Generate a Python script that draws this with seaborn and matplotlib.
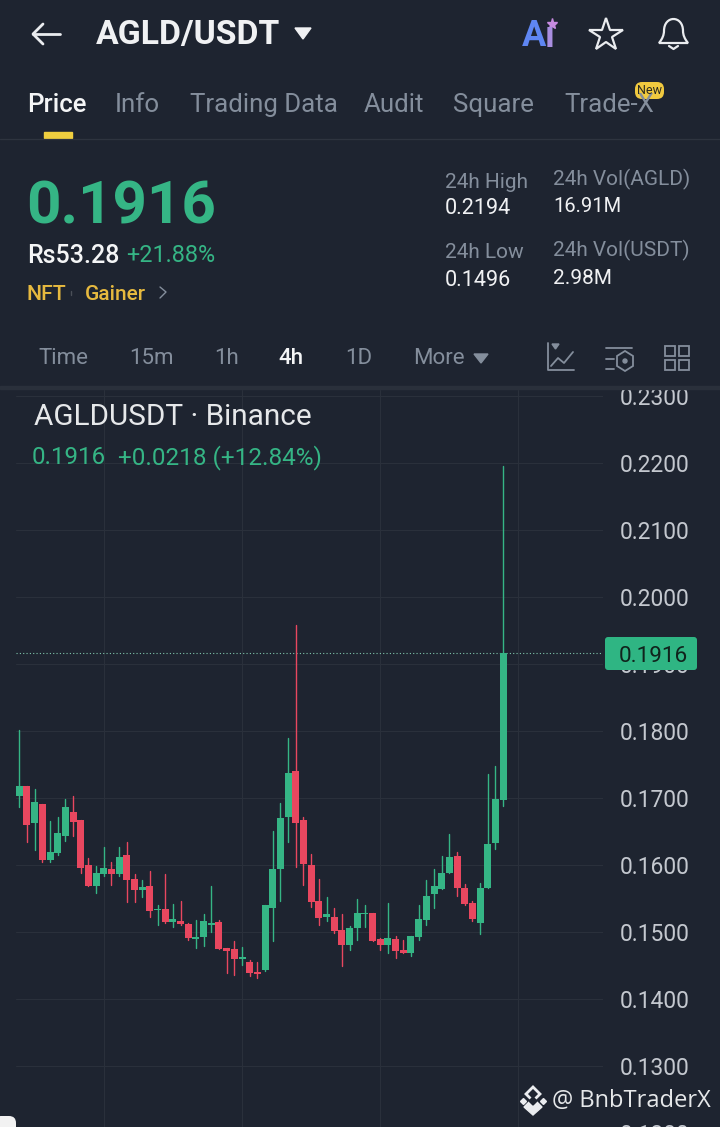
import matplotlib
matplotlib.use("Agg")
import matplotlib.pyplot as plt
from matplotlib.patches import FancyBboxPatch, Polygon, Rectangle, Circle
from matplotlib.path import Path
from matplotlib.patches import PathPatch
import numpy as np
import pandas as pd
import seaborn as sns

# candles, left to right
opens = [.1703,.1718,.1663,.1691,.1608,.1618,.1643,.1679,.1667,.1600,.1569,.1587,.1594,.1587,.1615,.1579,
         .1563,.1569,.1533,.1534,.1515,.1517,.1512,.1490,.1493,.1511,.1515,.1476,.1475,.1460,.1455,.1440,
         .1443,.1536,.1594,.1672,.1740,.1667,.1600,.1546,.1522,.1522,.1503,.1481,.1506,.1527,.1528,.1490,
         .1481,.1490,.1473,.1469,.1493,.1518,.1557,.1564,.1588,.1613,.1566,.1543,.1513,.1566,.1633,.1697]
closes = [.1718,.1660,.1694,.1608,.1619,.1648,.1687,.1664,.1596,.1569,.1588,.1596,.1587,.1612,.1578,.1563,
          .1567,.1531,.1534,.1515,.1519,.1512,.1491,.1491,.1517,.1513,.1475,.1472,.1460,.1461,.1439,.1437,
          .1540,.1594,.1670,.1737,.1663,.1602,.1545,.1521,.1527,.1501,.1481,.1506,.1528,.1528,.1487,.1481,
          .1491,.1472,.1469,.1494,.1519,.1554,.1569,.1588,.1612,.1566,.1542,.1519,.1566,.1631,.1699,.1916]
highs = [.1801,.1718,.1714,.1691,.1665,.1672,.1699,.1703,.1667,.1610,.1599,.1627,.1604,.1627,.1635,.1586,
         .1577,.1591,.1541,.1587,.1542,.1547,.1513,.1518,.1527,.1569,.1518,.1476,.1487,.1477,.1458,.1455,
         .1540,.1651,.1693,.1790,.1958,.1672,.1617,.1579,.1552,.1536,.1527,.1509,.1549,.1540,.1528,.1491,
         .1544,.1494,.1488,.1494,.1540,.1578,.1594,.1613,.1646,.1619,.1572,.1546,.1573,.1736,.1748,.2195]
lows = [.1687,.1634,.1622,.1605,.1605,.1615,.1636,.1643,.1588,.1568,.1558,.1583,.1570,.1583,.1545,.1545,
        .1552,.1522,.1511,.1514,.1507,.1510,.1488,.1476,.1479,.1500,.1474,.1439,.1436,.1451,.1435,.1432,
        .1442,.1486,.1547,.1635,.1597,.1570,.1537,.1510,.1517,.1498,.1449,.1473,.1488,.1507,.1486,.1473,
        .1469,.1461,.1468,.1464,.1488,.1510,.1536,.1564,.1588,.1554,.1541,.1516,.1497,.1565,.1624,.1688]
price_ticks = [.23,.22,.21,.20,.19,.18,.17,.16,.15,.14,.13,.12]
last_price = 0.1916

BG = "#1e2430"
GRID = "#2a303b"
GREEN = "#35b585"
RED = "#e8475f"
GREY = "#848e9c"
WHITE = "#eaecef"
GOLD = "#e6b93f"

W, H = 720, 1127
sns.set_theme(style="dark", rc={"axes.facecolor": BG, "figure.facecolor": BG})
plt.rcParams["font.family"] = ["Roboto", "DejaVu Sans"]

fig = plt.figure(figsize=(7.2, 11.27), dpi=100)

# chart axes run 10px past the bottom edge so the 0.1200 label gets cut like the screenshot
ax = fig.add_axes([16 / W, -10 / H, (603 - 16) / W, (H - 390 + 10) / H])
df = pd.DataFrame({"i": range(len(opens)), "open": opens, "close": closes, "high": highs, "low": lows})
df["dir"] = np.where(df["close"] >= df["open"], "up", "down")
df["base"] = df[["open", "close"]].min(axis=1)
df["size"] = (df["close"] - df["open"]).abs().clip(lower=0.0002)

wicks = df.melt(id_vars=["i", "dir"], value_vars=["high", "low"], value_name="price")
sns.lineplot(data=wicks, x="i", y="price", hue="dir", units="i", estimator=None, sort=False,
             palette={"up": GREEN, "down": RED}, linewidth=1.0, legend=False, ax=ax, zorder=3)
for d, col in [("up", GREEN), ("down", RED)]:
    part = df[df["dir"] == d]
    sns.barplot(data=part, x="i", y="size", bottom=part["base"].values, native_scale=True, width=0.91,
                color=col, saturation=1, errorbar=None, linewidth=0, ax=ax, zorder=4)

ax.set_xlabel("")
ax.set_ylabel("")
ax.set_xticks([(x - 19.3) / 7.68 for x in (104, 242, 380, 518)])
ax.set_xticklabels([])
ax.set_yticks(price_ticks)
ax.set_yticklabels([f"{p:.4f}" for p in price_ticks])
ax.set_xlim((16 - 19.3) / 7.68, (603 - 19.3) / 7.68)
ax.set_ylim(0.23 - 741 / 6700, 0.23 + 6 / 6700)
ax.yaxis.tick_right()
ax.tick_params(axis="y", length=0, pad=12, labelsize=16.4, labelcolor="#c4c8cf")
ax.tick_params(axis="x", length=0)
ax.grid(True, color=GRID, linewidth=0.8)
ax.set_axisbelow(True)
sns.despine(ax=ax, left=True, right=True, top=True, bottom=True)
ax.axhline(last_price, color="#7fc7ad", linewidth=0.8, linestyle=(0, (1, 2)), zorder=2)

# overlay in screenshot pixels for the app chrome
ov = fig.add_axes([0, 0, 1, 1], facecolor="none")
ov.set_xlim(0, W)
ov.set_ylim(H, 0)
ov.axis("off")


def txt(x, y, s, size, color=WHITE, weight="normal", ha="left", **kw):
    ov.text(x, y + 2, s, fontsize=size, color=color, fontweight=weight, ha=ha, va="center", **kw)


def line(xs, ys, color=WHITE, lw=1.6):
    ov.plot(xs, ys, color=color, lw=lw, solid_capstyle="round", solid_joinstyle="round")


# top bar
line([33, 60], [34, 34], lw=2)
line([43, 33, 43], [24, 34, 44], lw=2)
txt(96, 33, "AGLD/USDT", 24.3, weight="bold", color="#f0f1f3")
ov.add_patch(Polygon([[295, 28], [311, 28], [303, 39]], color="#f0f1f3"))
txt(522, 34, "A", 26, color="#5f86f2", weight="bold")
txt(545, 35, "ı", 26, color="#a98ee0", weight="bold")
ov.plot([552], [24], marker="*", ms=8, color="#c78be0")
ov.plot([606], [35], marker="*", ms=25, mfc="none", mec=WHITE, mew=1.6)
bell = Path([(659, 43), (664, 37), (664, 31), (664, 15), (683, 15), (683, 31), (683, 37), (688, 43), (659, 43)],
            [Path.MOVETO, Path.CURVE3, Path.CURVE3, Path.CURVE4, Path.CURVE4, Path.CURVE4, Path.CURVE3, Path.CURVE3, Path.CLOSEPOLY])
ov.add_patch(PathPatch(bell, fc="none", ec=WHITE, lw=1.6))
line([669, 673.5, 678], [46, 49, 46], lw=1.6)

# tabs
for x, s in [(115, "Info"), (189.5, "Trading Data"), (364, "Audit"), (453, "Square"), (564, "Trade-X")]:
    txt(x, 103, s, 18.6, color=GREY)
txt(27, 103, "Price", 18.5, color="#f4f5f6", weight="medium")
ov.add_patch(FancyBboxPatch((635, 82), 29, 17, boxstyle="round,pad=0,rounding_size=7", fc="#f0c93f", ec="none"))
txt(649.5, 89, "New", 9, color="#2a2a20", ha="center")
ov.add_patch(Rectangle((44, 132), 28, 6, color="#f0cf3f"))
line([0, W], [138.5, 138.5], color="#2e343f", lw=0.9)

# price block
txt(26, 205, "0.1916", 43.3, color=GREEN, weight="bold")
txt(27, 254, "Rs53.28", 18, color="#f4f5f6", weight="medium")
txt(126, 253, "+21.88%", 16.8, color=GREEN)
txt(27, 292, "NFT", 15.3, color=GOLD, weight="medium")
txt(85, 292, "Gainer", 15, color=GOLD, weight="medium")
line([71, 71], [291, 295], color="#4a4f58", lw=1)
line([160, 166, 160], [287, 292, 298], color=GREY, lw=1)
for x, y, s in [(445, 180, "24h High"), (553, 177, "24h Vol(AGLD)"), (445, 251, "24h Low"), (553, 248, "24h Vol(USDT)")]:
    txt(x, y, s, 15, color=GREY)
for x, y, s, size in [(445, 207, "0.2194", 15.6), (553, 205, "16.91M", 14.5), (445, 278, "0.1496", 15.6), (553, 276, "2.98M", 15)]:
    txt(x, y, s, size, color="#f0f1f3")

# interval row
for x, s in [(38.5, "Time"), (129, "15m"), (214, "1h"), (345, "1D"), (413, "More")]:
    txt(x, 357, s, 16, color=GREY)
txt(278, 357, "4h", 16, color="#f4f5f6", weight="medium")
ov.add_patch(Polygon([[474, 354], [488, 354], [481, 363]], color=GREY))
line([548, 548, 574], [343, 370, 370], color=GREY, lw=1.3)
line([551, 558, 564, 573], [366, 358, 363, 352], color=GREY, lw=1.3)
ov.add_patch(Polygon([[552, 344], [559, 344], [555.5, 349]], color=GREY))
line([606, 632], [348, 348], color=GREY, lw=1.3)
line([606, 614], [359, 359], color=GREY, lw=1.3)
line([606, 614], [369, 369], color=GREY, lw=1.3)
ov.add_patch(Polygon([[625, 351], [633, 356], [633, 366], [625, 371], [617, 366], [617, 356]], fc="none", ec=GREY, lw=1.3))
ov.add_patch(Circle((625, 361), 2, color=GREY))
for x0, y0 in [(665, 346), (679, 346), (665, 360), (679, 360)]:
    ov.add_patch(Rectangle((x0, y0), 10, 10, fc="none", ec=GREY, lw=1.3))
ov.add_patch(Rectangle((0, 386), W, 3, color="#2a303b"))

# chart legend and last price tag
txt(34, 415, "AGLDUSDT · Binance", 21.4, color="#e6e8ea")
txt(32, 456, "0.1916", 17.4, color=GREEN)
txt(118, 456, "+0.0218 (+12.84%)", 17.5, color=GREEN)
ov.add_patch(FancyBboxPatch((605, 637), 92, 33, boxstyle="round,pad=0,rounding_size=3", fc="#2fb583", ec="none"))
txt(619, 654.5, "0.1916", 16.2, color="#10231c")

# watermark
ov.add_patch(Polygon([[533, 1087], [540, 1094], [533, 1101], [526, 1094]], fc="none", ec=WHITE, lw=2))
ov.add_patch(Polygon([[533, 1098], [542, 1107], [533, 1115], [524, 1107]], color=WHITE))
ov.add_patch(Polygon([[533, 1097], [537, 1101], [533, 1105], [529, 1101]], color=BG))
ov.plot([523, 543], [1101, 1101], ls="none", marker="D", ms=3, color=WHITE)
txt(552, 1099, "@ BnbTraderX", 17, color="#e6e8ea", family="Open Sans")
ov.add_patch(FancyBboxPatch((-6, 1116), 22, 20, boxstyle="round,pad=0,rounding_size=7", fc="#f2f2f2", ec="none"))

plt.savefig("out.png", dpi=100, facecolor=BG)
